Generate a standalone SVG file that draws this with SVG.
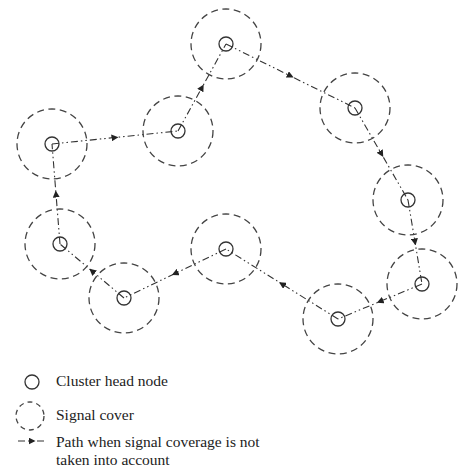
<svg xmlns="http://www.w3.org/2000/svg" width="474" height="474" viewBox="0 0 474 474">
<style>
.cover{fill:none;stroke:#444;stroke-width:1.3;stroke-dasharray:7 4.5}
.head{fill:none;stroke:#333;stroke-width:1.3}
.path{fill:none;stroke:#333;stroke-width:1.1;stroke-dasharray:7 3 1.5 3 1.5 3}
text{font-family:"Liberation Serif","Times New Roman",serif;font-size:15.5px;fill:#222}
</style>
<defs>
<marker id="arr" viewBox="0 0 10 10" refX="5" refY="5" markerWidth="7" markerHeight="7" markerUnits="userSpaceOnUse" orient="auto">
<path d="M0,0 L10,5 L0,10 z" fill="#222"/>
</marker>
</defs>
<rect width="474" height="474" fill="#fff"/>
<g id="connectors">
<path class="path" marker-mid="url(#arr)" d="M52,144 L115,137.5 L178,131"/>
<path class="path" marker-mid="url(#arr)" d="M178,131 L202,87.5 L226,44"/>
<path class="path" marker-mid="url(#arr)" d="M226,44 L290.5,76 L355,108"/>
<path class="path" marker-mid="url(#arr)" d="M355,108 L381.5,154 L408,200"/>
<path class="path" marker-mid="url(#arr)" d="M408,200 L415,242 L422,284"/>
<path class="path" marker-mid="url(#arr)" d="M422,284 L380,301.5 L338,319"/>
<path class="path" marker-mid="url(#arr)" d="M338,319 L282,284 L226,249"/>
<path class="path" marker-mid="url(#arr)" d="M226,249 L175,273.5 L124,298"/>
<path class="path" marker-mid="url(#arr)" d="M124,298 L92,271 L60,244"/>
<path class="path" marker-mid="url(#arr)" d="M60,244 L56,194 L52,144"/>
</g>
<g id="nodeA"><circle class="cover" cx="52" cy="144" r="35"/><circle class="head" cx="52" cy="144" r="7"/></g>
<g id="nodeB"><circle class="cover" cx="178" cy="131" r="35"/><circle class="head" cx="178" cy="131" r="7"/></g>
<g id="nodeC"><circle class="cover" cx="226" cy="44" r="35"/><circle class="head" cx="226" cy="44" r="7"/></g>
<g id="nodeD"><circle class="cover" cx="355" cy="108" r="35"/><circle class="head" cx="355" cy="108" r="7"/></g>
<g id="nodeE"><circle class="cover" cx="408" cy="200" r="35"/><circle class="head" cx="408" cy="200" r="7"/></g>
<g id="nodeF"><circle class="cover" cx="422" cy="284" r="35"/><circle class="head" cx="422" cy="284" r="7"/></g>
<g id="nodeG"><circle class="cover" cx="338" cy="319" r="35"/><circle class="head" cx="338" cy="319" r="7"/></g>
<g id="nodeJ"><circle class="cover" cx="226" cy="249" r="35"/><circle class="head" cx="226" cy="249" r="7"/></g>
<g id="nodeI"><circle class="cover" cx="124" cy="298" r="35"/><circle class="head" cx="124" cy="298" r="7"/></g>
<g id="nodeH"><circle class="cover" cx="60" cy="244" r="35"/><circle class="head" cx="60" cy="244" r="7"/></g>
<g id="legend">
<circle class="head" cx="32" cy="382" r="7"/>
<text x="56" y="386">Cluster head node</text>
<circle class="cover" cx="30" cy="416" r="14" style="stroke-dasharray:5 4"/>
<text x="56" y="420">Signal cover</text>
<path class="path" marker-mid="url(#arr)" d="M18,441 L32,441 L45,441"/>
<text x="56" y="447">Path when signal coverage is not</text>
<text x="56" y="465">taken into account</text>
</g>
</svg>
